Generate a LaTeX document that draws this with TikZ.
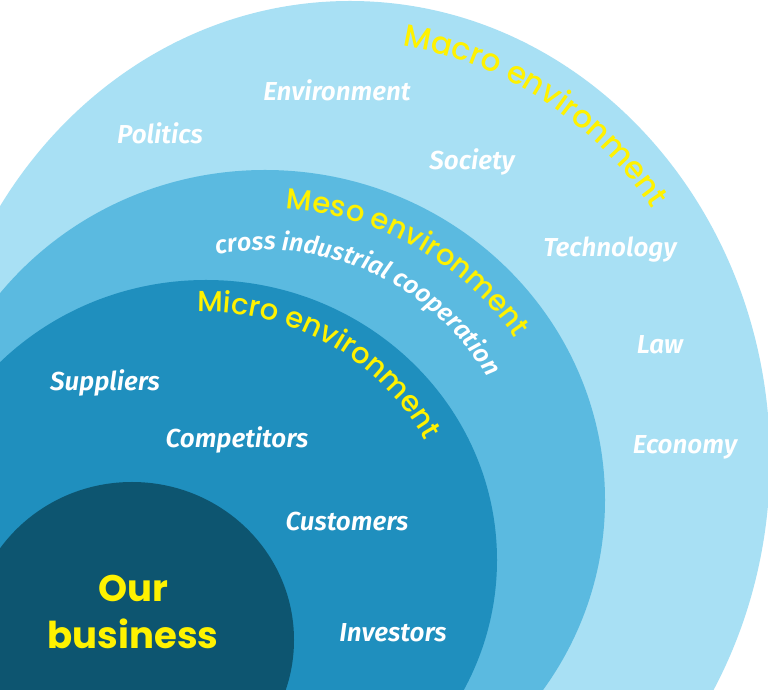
\documentclass[tikz,border=0pt]{standalone}
\usepackage{fontspec}
\usetikzlibrary{decorations.text}
\newfontfamily\headfont{Poppins}[UprightFont=* Medium,BoldFont=* Bold]
\newfontfamily\handfont{Fira Sans}[UprightFont=* SemiBold Italic]
\definecolor{macroC}{HTML}{A8E0F4}
\definecolor{mesoC}{HTML}{5BBAE0}
\definecolor{microC}{HTML}{1F8FBE}
\definecolor{coreC}{HTML}{0D5570}
\definecolor{headY}{HTML}{FFF200}
\tikzset{
  lbl/.style={text=white,font=\handfont\fontsize{26}{26}\selectfont,inner sep=0pt},
  curved/.style={decorate,decoration={text along path,text align=left,text={#1}}}
}
\begin{document}
\begin{tikzpicture}[x=1pt,y=1pt]
\useasboundingbox (0,0) rectangle (768,690);
\clip (0,0) rectangle (768,690);
\fill[white] (0,0) rectangle (768,690);
\fill[macroC] (350,230) ellipse [x radius=420,y radius=459];
\fill[mesoC] (265,190) ellipse [x radius=340,y radius=330];
\fill[microC] (206,130) ellipse [x radius=291,y radius=280];
\fill[coreC] (132,50) ellipse [x radius=162,y radius=158];
% curved headings
\path[curved={|\headfont\fontsize{31}{31}\selectfont\color{headY}|Macro environment}]
  (350,230) ++(82:378 and 418) arc[start angle=82,end angle=5,x radius=378,y radius=418];
\path[curved={|\headfont\fontsize{29}{29}\selectfont\color{headY}|Meso environment}]
  (265,190) ++(86:300 and 292) arc[start angle=86,end angle=-5,x radius=300,y radius=292];
\path[curved={|\handfont\fontsize{25}{25}\selectfont\color{white}|cross industrial cooperation}]
  (265,190) ++(101:255 and 250) arc[start angle=101,end angle=-10,x radius=255,y radius=250];
\path[curved={|\headfont\fontsize{29}{29}\selectfont\color{headY}|Micro environment}]
  (206,130) ++(92:250 and 248) arc[start angle=92,end angle=-5,x radius=250,y radius=248];
% labels
\node[lbl] (politics) at (160,557) {Politics};
\node[lbl] (envir) at (337,600) {Environment};
\node[lbl] (society) at (472,528) {Society};
\node[lbl] (tech) at (610,440) {Technology};
\node[lbl] (law) at (660,345) {Law};
\node[lbl] (economy) at (685,243) {Economy};
\node[lbl] (suppliers) at (105,307) {Suppliers};
\node[lbl] (competitors) at (237,250) {Competitors};
\node[lbl] (customers) at (347,168) {Customers};
\node[lbl] (investors) at (393,57) {Investors};
\node[text=headY,font=\headfont\fontsize{37}{47}\selectfont\bfseries,align=center,inner sep=0pt] (our) at (133,78) {Our\\business};
\end{tikzpicture}
\end{document}
